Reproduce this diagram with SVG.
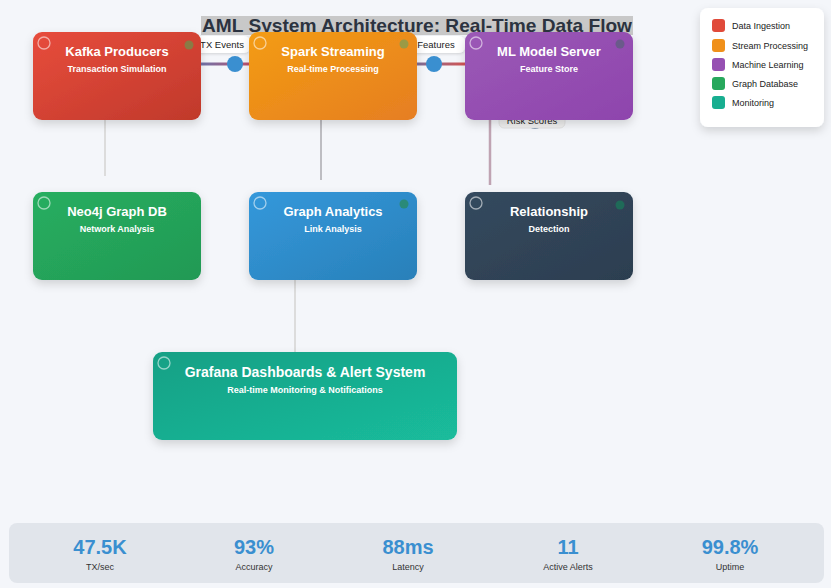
<svg xmlns="http://www.w3.org/2000/svg" width="831" height="588" viewBox="0 0 831 588">
<defs>
<linearGradient id="gRed" x1="0" y1="0" x2="1" y2="1"><stop offset="0" stop-color="#e74c3c"/><stop offset="1" stop-color="#c0392b"/></linearGradient>
<linearGradient id="gOrange" x1="0" y1="0" x2="1" y2="1"><stop offset="0" stop-color="#f39c12"/><stop offset="1" stop-color="#e67e22"/></linearGradient>
<linearGradient id="gPurple" x1="0" y1="0" x2="1" y2="1"><stop offset="0" stop-color="#9b59b6"/><stop offset="1" stop-color="#8e44ad"/></linearGradient>
<linearGradient id="gGreen" x1="0" y1="0" x2="1" y2="1"><stop offset="0" stop-color="#27ae60"/><stop offset="1" stop-color="#229954"/></linearGradient>
<linearGradient id="gBlue" x1="0" y1="0" x2="1" y2="1"><stop offset="0" stop-color="#3498db"/><stop offset="1" stop-color="#2980b9"/></linearGradient>
<linearGradient id="gDark" x1="0" y1="0" x2="1" y2="1"><stop offset="0" stop-color="#34495e"/><stop offset="1" stop-color="#2c3e50"/></linearGradient>
<linearGradient id="gTeal" x1="0" y1="0" x2="1" y2="1"><stop offset="0" stop-color="#16a085"/><stop offset="1" stop-color="#1abc9c"/></linearGradient>
<linearGradient id="gLink1" gradientUnits="userSpaceOnUse" x1="178" y1="0" x2="252" y2="0"><stop offset="0" stop-color="#4a82c4"/><stop offset="1" stop-color="#c0506a"/></linearGradient>
<linearGradient id="gLink2" gradientUnits="userSpaceOnUse" x1="415" y1="0" x2="468" y2="0"><stop offset="0" stop-color="#7a6f9a"/><stop offset="1" stop-color="#d9534f"/></linearGradient>
<filter id="sh" x="-20%" y="-20%" width="140%" height="150%"><feDropShadow dx="0" dy="4" stdDeviation="5" flood-color="#000" flood-opacity="0.15"/></filter>
<filter id="lsh" x="-20%" y="-40%" width="140%" height="190%"><feDropShadow dx="0" dy="1" stdDeviation="1.5" flood-color="#000" flood-opacity="0.15"/></filter>
</defs>
<style>
.t{font-family:"Liberation Sans",Arial,sans-serif;font-weight:bold;fill:#fff;text-anchor:middle}
.nt{font-size:13px}
.ns{font-size:9px}
.ring{fill:none;stroke:#fff;stroke-opacity:0.55;stroke-width:1.3}
.lbl{font-family:"Liberation Sans",Arial,sans-serif;font-size:9.5px;fill:#222}
.lgd{font-family:"Liberation Sans",Arial,sans-serif;font-size:9px;fill:#222}
.sv{font-family:"Liberation Sans",Arial,sans-serif;font-size:20px;font-weight:bold;fill:#3a8fd0;text-anchor:middle}
.sl{font-family:"Liberation Sans",Arial,sans-serif;font-size:9px;fill:#333;text-anchor:middle}
</style>
<rect width="831" height="588" fill="#f4f6fa"/>
<!-- title -->
<rect x="201" y="16" width="432" height="19" fill="#c8c8c8"/>
<text x="417" y="32" font-family="Liberation Sans, Arial, sans-serif" font-size="19" font-weight="bold" fill="#2c3340" text-anchor="middle" textLength="430" lengthAdjust="spacingAndGlyphs">AML System Architecture: Real-Time Data Flow</text>
<!-- connectors -->
<g id="connectors">
<line x1="105" y1="120" x2="105" y2="176" stroke="#dcdcdc" stroke-width="2"/>
<line x1="321" y1="120" x2="321" y2="180" stroke="#bdbdc2" stroke-width="2"/>
<line x1="295" y1="280" x2="295" y2="352" stroke="#dcdcdc" stroke-width="2"/>
<line x1="490" y1="118" x2="490" y2="185" stroke="#bfa3b2" stroke-width="2.5"/>
<circle cx="535" cy="121" r="8" fill="#5a7a9a"/>
<rect x="499" y="112" width="66" height="16" rx="5" fill="#eeeeee" stroke="#dddddd" stroke-width="0.8"/>
<text class="lbl" x="532" y="124" text-anchor="middle">Risk Scores</text>
<line x1="178" y1="64" x2="252" y2="64" stroke="url(#gLink1)" stroke-width="3"/>
<line x1="415" y1="64" x2="468" y2="64" stroke="url(#gLink2)" stroke-width="3"/>
<rect x="193" y="36" width="57" height="17" rx="6" fill="#fff" filter="url(#lsh)"/>
<text class="lbl" x="222" y="48" text-anchor="middle">TX Events</text>
<rect x="410" y="36" width="55" height="17" rx="6" fill="#fff" filter="url(#lsh)"/>
<text class="lbl" x="436" y="48" text-anchor="middle">Features</text>
<circle cx="235" cy="64" r="8" fill="#3a8fd0"/>
<circle cx="434" cy="64" r="8" fill="#3a8fd0"/>
</g>
<!-- nodes -->
<g id="kafka">
<rect x="33" y="32" width="168" height="88" rx="9" fill="url(#gRed)" filter="url(#sh)"/>
<circle class="ring" cx="44" cy="43" r="6"/>
<circle cx="189" cy="45" r="4.5" fill="#8a7a45"/>
<text class="t nt" x="117" y="56">Kafka Producers</text>
<text class="t ns" x="117" y="72">Transaction Simulation</text>
</g>
<g id="spark">
<rect x="249" y="32" width="168" height="88" rx="9" fill="url(#gOrange)" filter="url(#sh)"/>
<circle class="ring" cx="260" cy="43" r="6"/>
<circle cx="404" cy="44" r="4.5" fill="#9a9a45"/>
<text class="t nt" x="333" y="56">Spark Streaming</text>
<text class="t ns" x="333" y="72">Real-time Processing</text>
</g>
<g id="mlserver">
<rect x="465" y="32" width="168" height="88" rx="9" fill="url(#gPurple)" filter="url(#sh)"/>
<circle class="ring" cx="476" cy="43" r="6"/>
<circle cx="620" cy="44" r="4.5" fill="#6a5a8a"/>
<text class="t nt" x="549" y="56">ML Model Server</text>
<text class="t ns" x="549" y="72">Feature Store</text>
</g>
<g id="neo4j">
<rect x="33" y="192" width="168" height="88" rx="9" fill="url(#gGreen)" filter="url(#sh)"/>
<circle class="ring" cx="44" cy="203" r="6"/>
<text class="t nt" x="117" y="216">Neo4j Graph DB</text>
<text class="t ns" x="117" y="232">Network Analysis</text>
</g>
<g id="graphanalytics">
<rect x="249" y="192" width="168" height="88" rx="9" fill="url(#gBlue)" filter="url(#sh)"/>
<circle class="ring" cx="260" cy="203" r="6"/>
<circle cx="404" cy="204" r="4.5" fill="#2a8a78"/>
<text class="t nt" x="333" y="216">Graph Analytics</text>
<text class="t ns" x="333" y="232">Link Analysis</text>
</g>
<g id="relationship">
<rect x="465" y="192" width="168" height="88" rx="9" fill="url(#gDark)" filter="url(#sh)"/>
<circle class="ring" cx="476" cy="203" r="6"/>
<circle cx="620" cy="205" r="4.5" fill="#1f6a58"/>
<text class="t nt" x="549" y="216">Relationship</text>
<text class="t ns" x="549" y="232">Detection</text>
</g>
<g id="grafana">
<rect x="153" y="352" width="304" height="88" rx="9" fill="url(#gTeal)" filter="url(#sh)"/>
<circle class="ring" cx="164" cy="363" r="6"/>
<text class="t" font-size="14" x="305" y="377">Grafana Dashboards &amp; Alert System</text>
<text class="t ns" x="305" y="393">Real-time Monitoring &amp; Notifications</text>
</g>
<!-- legend -->
<g id="legend">
<rect x="700" y="8" width="124" height="119" rx="8" fill="#fff" filter="url(#sh)"/>
<rect x="712" y="19" width="13" height="13" rx="3" fill="#e04a3a"/>
<text class="lgd" x="732" y="29">Data Ingestion</text>
<rect x="712" y="39" width="13" height="13" rx="3" fill="#f0901a"/>
<text class="lgd" x="732" y="49">Stream Processing</text>
<rect x="712" y="58" width="13" height="13" rx="3" fill="#9650b2"/>
<text class="lgd" x="732" y="68">Machine Learning</text>
<rect x="712" y="77" width="13" height="13" rx="3" fill="#27a85c"/>
<text class="lgd" x="732" y="87">Graph Database</text>
<rect x="712" y="96" width="13" height="13" rx="3" fill="#18ae90"/>
<text class="lgd" x="732" y="106">Monitoring</text>
</g>
<!-- stats -->
<g id="stats">
<rect x="9" y="523" width="815" height="60" rx="8" fill="#e1e5eb"/>
<text class="sv" x="100" y="554">47.5K</text>
<text class="sl" x="100" y="570">TX/sec</text>
<text class="sv" x="254" y="554">93%</text>
<text class="sl" x="254" y="570">Accuracy</text>
<text class="sv" x="408" y="554">88ms</text>
<text class="sl" x="408" y="570">Latency</text>
<text class="sv" x="568" y="554">11</text>
<text class="sl" x="568" y="570">Active Alerts</text>
<text class="sv" x="730" y="554">99.8%</text>
<text class="sl" x="730" y="570">Uptime</text>
</g>
</svg>
